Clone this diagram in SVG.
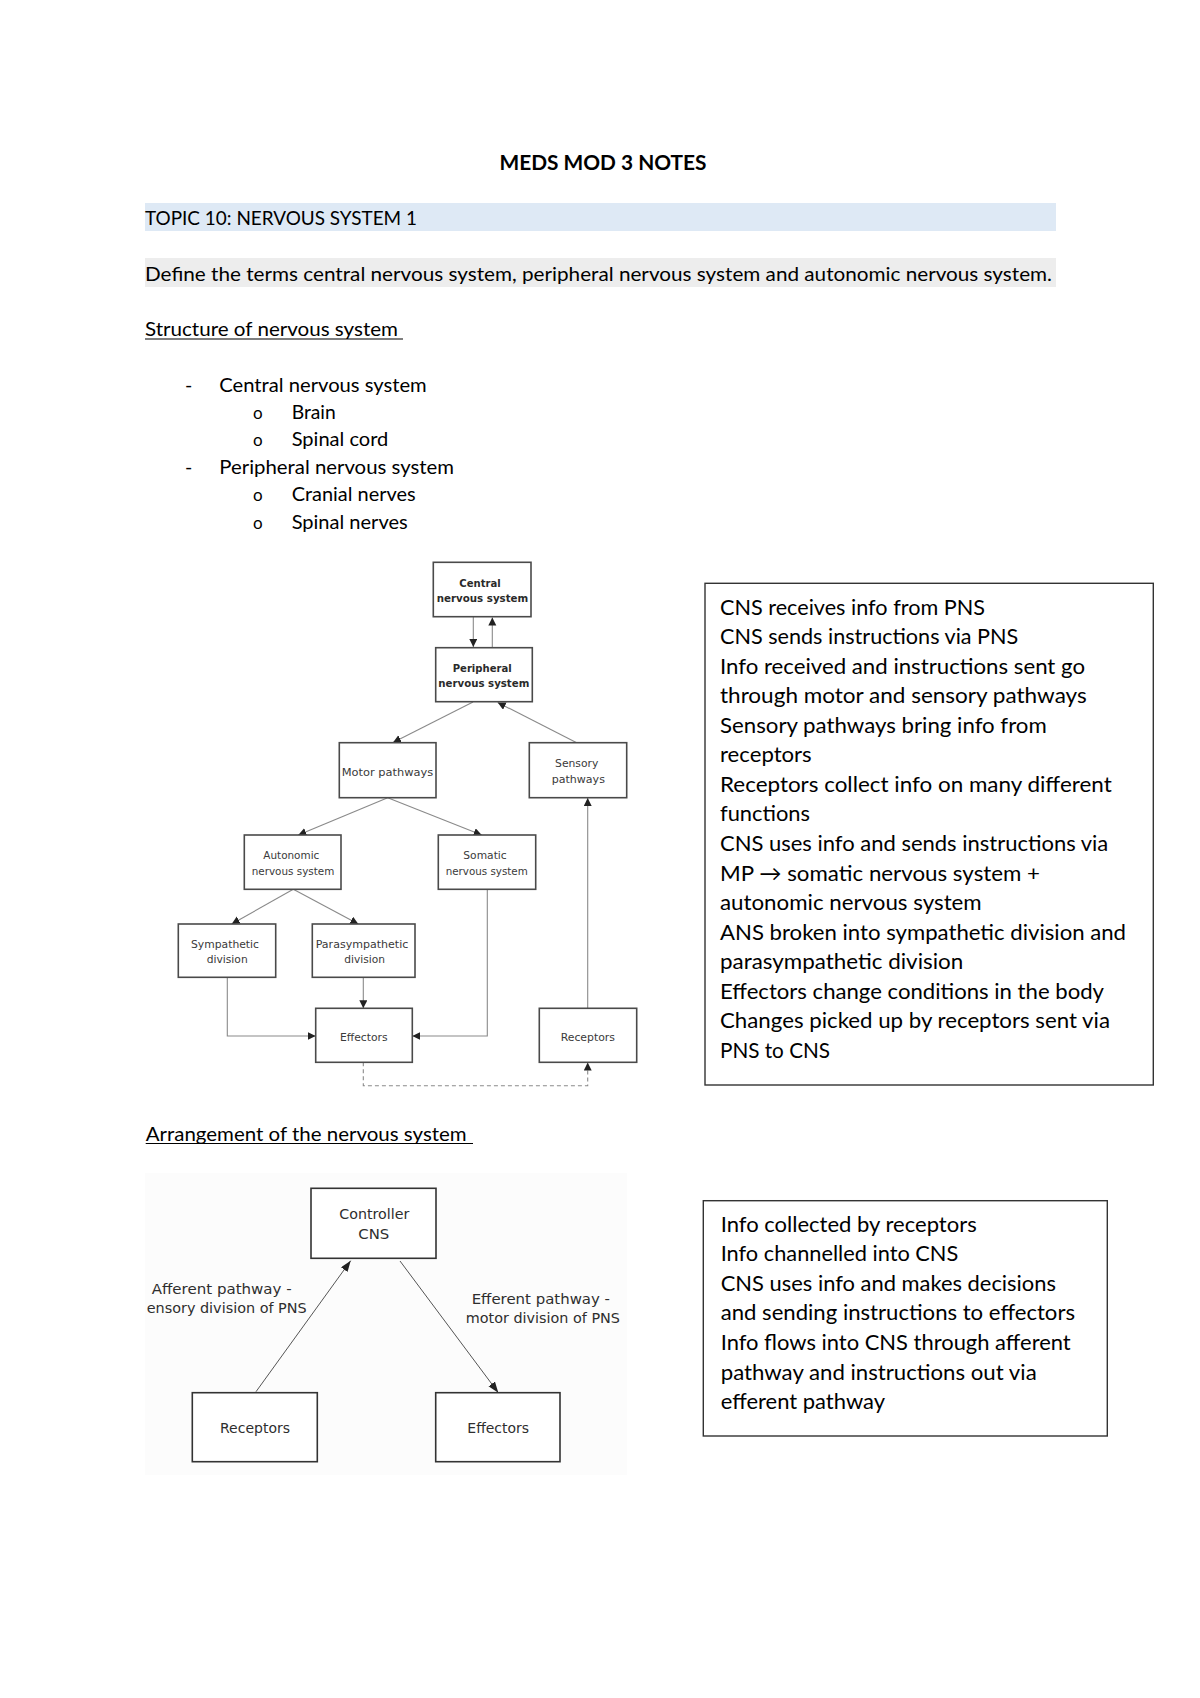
<svg xmlns="http://www.w3.org/2000/svg" width="1200" height="1698" viewBox="0 0 1200 1698">
<style>
.body{font-family:Lato,'Liberation Sans',sans-serif;font-size:19.7px;fill:#000}
.box{font-family:Lato,'Liberation Sans',sans-serif;font-size:21.5px;fill:#000}
.title{font-family:Lato,'Liberation Sans',sans-serif;font-size:21px;font-weight:bold;fill:#000}
.d1{font-family:'DejaVu Sans',sans-serif;font-size:11px;fill:#3a3a3a}
.d1b{font-family:'DejaVu Sans',sans-serif;font-size:11px;font-weight:bold;fill:#2a2a2a}
.d2{font-family:'DejaVu Sans',sans-serif;font-size:14.5px;fill:#2e2e2e}
.n1{fill:#fff;stroke:#4a4a4a;stroke-width:1.6}
.n2{fill:#fff;stroke:#333;stroke-width:1.6}
.c1{fill:none;stroke:#8a8a8a;stroke-width:1.1}
.c2{fill:none;stroke:#555;stroke-width:1}
.dash{stroke-dasharray:4 3}
.frame{fill:none;stroke:#333;stroke-width:1.4}
</style>
<defs>
<marker id="a1" markerUnits="userSpaceOnUse" markerWidth="9" markerHeight="9" refX="8" refY="4" orient="auto">
<path d="M0,0 L8,4 L0,8 z" fill="#222"/>
</marker>
<marker id="a2" markerUnits="userSpaceOnUse" markerWidth="12" markerHeight="10" refX="11" refY="4" orient="auto">
<path d="M0,0 L11,4 L0,8 z" fill="#222"/>
</marker>
</defs>
<rect width="1200" height="1698" fill="#fff"/>

<g id="header">
<text class="title" x="603" y="170" text-anchor="middle" textLength="207" lengthAdjust="spacingAndGlyphs">MEDS MOD 3 NOTES</text>
<rect x="145" y="203" width="911" height="28" fill="#dee9f5"/>
<text class="body" x="145" y="225" textLength="272" lengthAdjust="spacingAndGlyphs">TOPIC 10: NERVOUS SYSTEM 1</text>
<rect x="145" y="258" width="911" height="29" fill="#ededed"/>
<text class="body" x="145" y="281" textLength="907" lengthAdjust="spacingAndGlyphs">Define the terms central nervous system, peripheral nervous system and autonomic nervous system.</text>
<text class="body" x="145" y="336" textLength="253" lengthAdjust="spacingAndGlyphs">Structure of nervous system</text>
<line x1="145" y1="339" x2="403" y2="339" stroke="#000" stroke-width="1.2"/>
<text class="body" x="185" y="391.5">-</text>
<text class="body" x="219.3" y="391.5" textLength="207.4" lengthAdjust="spacingAndGlyphs">Central nervous system</text>
<text class="body" x="253" y="418.9" style="font-size:17px">o</text>
<text class="body" x="291.7" y="418.9" textLength="44" lengthAdjust="spacingAndGlyphs">Brain</text>
<text class="body" x="253" y="446.3" style="font-size:17px">o</text>
<text class="body" x="291.7" y="446.3" textLength="96.6" lengthAdjust="spacingAndGlyphs">Spinal cord</text>
<text class="body" x="185" y="473.7">-</text>
<text class="body" x="219.3" y="473.7" textLength="234.7" lengthAdjust="spacingAndGlyphs">Peripheral nervous system</text>
<text class="body" x="253" y="501.1" style="font-size:17px">o</text>
<text class="body" x="291.7" y="501.1" textLength="124" lengthAdjust="spacingAndGlyphs">Cranial nerves</text>
<text class="body" x="253" y="528.5" style="font-size:17px">o</text>
<text class="body" x="291.7" y="528.5" textLength="116" lengthAdjust="spacingAndGlyphs">Spinal nerves</text>
</g>

<g id="connectors1">
<line class="c1" x1="473.3" y1="617" x2="473.3" y2="647" marker-end="url(#a1)"/>
<line class="c1" x1="492.3" y1="647.7" x2="492.3" y2="617.5" marker-end="url(#a1)"/>
<line class="c1" x1="473" y1="702" x2="393" y2="742.5" marker-end="url(#a1)"/>
<line class="c1" x1="576.7" y1="742.7" x2="497.7" y2="702.5" marker-end="url(#a1)"/>
<line class="c1" x1="387.7" y1="797.7" x2="298.3" y2="835" marker-end="url(#a1)"/>
<line class="c1" x1="387.7" y1="797.7" x2="481.7" y2="835" marker-end="url(#a1)"/>
<line class="c1" x1="293.3" y1="889.3" x2="231.7" y2="924" marker-end="url(#a1)"/>
<line class="c1" x1="293.3" y1="889.3" x2="358.3" y2="924" marker-end="url(#a1)"/>
<line class="c1" x1="363.3" y1="977.3" x2="363.3" y2="1008.3" marker-end="url(#a1)"/>
<polyline class="c1" points="227.3,977.3 227.3,1036 315.7,1036" marker-end="url(#a1)"/>
<polyline class="c1" points="487.3,889.3 487.3,1036 412.3,1036" marker-end="url(#a1)"/>
<line class="c1" x1="587.7" y1="1008.3" x2="587.7" y2="798" marker-end="url(#a1)"/>
<polyline class="c1 dash" points="363.3,1062.3 363.3,1085.7 587.7,1085.7 587.7,1062.5" marker-end="url(#a1)"/>
</g>

<g id="cns">
<rect class="n1" x="433.3" y="562.3" width="97.7" height="54.4"/>
<text class="d1b" x="480" y="586.7" text-anchor="middle" textLength="41.4" lengthAdjust="spacingAndGlyphs">Central</text>
<text class="d1b" x="482.5" y="602.3" text-anchor="middle" textLength="91.6" lengthAdjust="spacingAndGlyphs">nervous system</text>
</g>
<g id="pns">
<rect class="n1" x="435.7" y="647.7" width="96.6" height="54"/>
<text class="d1b" x="482.2" y="671.7" text-anchor="middle" textLength="59" lengthAdjust="spacingAndGlyphs">Peripheral</text>
<text class="d1b" x="483.8" y="687.3" text-anchor="middle" textLength="91" lengthAdjust="spacingAndGlyphs">nervous system</text>
</g>
<g id="motor">
<rect class="n1" x="339.3" y="742.7" width="96.7" height="55"/>
<text class="d1" x="387.5" y="776" text-anchor="middle" textLength="91.6" lengthAdjust="spacingAndGlyphs">Motor pathways</text>
</g>
<g id="sensory">
<rect class="n1" x="529.3" y="742.7" width="97.4" height="55"/>
<text class="d1" x="576.7" y="767.3" text-anchor="middle" textLength="43.3" lengthAdjust="spacingAndGlyphs">Sensory</text>
<text class="d1" x="578.3" y="783.3" text-anchor="middle" textLength="53.3" lengthAdjust="spacingAndGlyphs">pathways</text>
</g>
<g id="autonomic">
<rect class="n1" x="244.3" y="835" width="96.7" height="54.3"/>
<text class="d1" x="291.3" y="859.3" text-anchor="middle" textLength="56" lengthAdjust="spacingAndGlyphs">Autonomic</text>
<text class="d1" x="293" y="875" text-anchor="middle" textLength="82.6" lengthAdjust="spacingAndGlyphs">nervous system</text>
</g>
<g id="somatic">
<rect class="n1" x="438.3" y="835" width="97.4" height="54.3"/>
<text class="d1" x="485" y="859.3" text-anchor="middle" textLength="43.4" lengthAdjust="spacingAndGlyphs">Somatic</text>
<text class="d1" x="486.7" y="875" text-anchor="middle" textLength="82" lengthAdjust="spacingAndGlyphs">nervous system</text>
</g>
<g id="sympathetic">
<rect class="n1" x="178.3" y="924" width="97.4" height="53.3"/>
<text class="d1" x="225" y="948.3" text-anchor="middle" textLength="68" lengthAdjust="spacingAndGlyphs">Sympathetic</text>
<text class="d1" x="227.2" y="963.3" text-anchor="middle" textLength="41" lengthAdjust="spacingAndGlyphs">division</text>
</g>
<g id="parasympathetic">
<rect class="n1" x="312.3" y="924" width="102.7" height="53.3"/>
<text class="d1" x="362" y="948.3" text-anchor="middle" textLength="92.6" lengthAdjust="spacingAndGlyphs">Parasympathetic</text>
<text class="d1" x="364.7" y="963.3" text-anchor="middle" textLength="40.7" lengthAdjust="spacingAndGlyphs">division</text>
</g>
<g id="effectors1">
<rect class="n1" x="315.7" y="1008.3" width="96.6" height="54"/>
<text class="d1" x="363.8" y="1040.7" text-anchor="middle" textLength="47.7" lengthAdjust="spacingAndGlyphs">Effectors</text>
</g>
<g id="receptors1">
<rect class="n1" x="539.3" y="1008.3" width="97.4" height="54"/>
<text class="d1" x="587.8" y="1040.7" text-anchor="middle" textLength="54.3" lengthAdjust="spacingAndGlyphs">Receptors</text>
</g>

<g id="notes1">
<rect class="frame" x="705" y="583.3" width="448.3" height="501.7"/>
<text class="box" x="720" y="614.5" textLength="265" lengthAdjust="spacingAndGlyphs">CNS receives info from PNS</text>
<text class="box" x="720" y="644.1" textLength="298.3" lengthAdjust="spacingAndGlyphs">CNS sends instructions via PNS</text>
<text class="box" x="720" y="673.6" textLength="365" lengthAdjust="spacingAndGlyphs">Info received and instructions sent go</text>
<text class="box" x="720" y="703.2" textLength="366.7" lengthAdjust="spacingAndGlyphs">through motor and sensory pathways</text>
<text class="box" x="720" y="732.7" textLength="326.7" lengthAdjust="spacingAndGlyphs">Sensory pathways bring info from</text>
<text class="box" x="720" y="762.3" textLength="91.7" lengthAdjust="spacingAndGlyphs">receptors</text>
<text class="box" x="720" y="791.9" textLength="391.7" lengthAdjust="spacingAndGlyphs">Receptors collect info on many different</text>
<text class="box" x="720" y="821.4" textLength="90" lengthAdjust="spacingAndGlyphs">functions</text>
<text class="box" x="720" y="851" textLength="388.3" lengthAdjust="spacingAndGlyphs">CNS uses info and sends instructions via</text>
<text class="box" x="720" y="880.5" textLength="320" lengthAdjust="spacingAndGlyphs">MP → somatic nervous system +</text>
<text class="box" x="720" y="910.1" textLength="261.7" lengthAdjust="spacingAndGlyphs">autonomic nervous system</text>
<text class="box" x="720" y="939.7" textLength="406" lengthAdjust="spacingAndGlyphs">ANS broken into sympathetic division and</text>
<text class="box" x="720" y="969.2" textLength="243.3" lengthAdjust="spacingAndGlyphs">parasympathetic division</text>
<text class="box" x="720" y="998.8" textLength="384" lengthAdjust="spacingAndGlyphs">Effectors change conditions in the body</text>
<text class="box" x="720" y="1028.3" textLength="390" lengthAdjust="spacingAndGlyphs">Changes picked up by receptors sent via</text>
<text class="box" x="720" y="1057.9" textLength="110" lengthAdjust="spacingAndGlyphs">PNS to CNS</text>
</g>

<g id="arrangement-heading">
<text class="body" x="145.7" y="1140.7" textLength="321" lengthAdjust="spacingAndGlyphs">Arrangement of the nervous system</text>
<line x1="145.7" y1="1143.5" x2="473" y2="1143.5" stroke="#000" stroke-width="1.2"/>
</g>

<rect x="145" y="1173" width="482" height="302" fill="#fcfcfc"/>

<g id="connectors2">
<line class="c2" x1="256" y1="1391.7" x2="350.7" y2="1260.7" marker-end="url(#a2)"/>
<line class="c2" x1="400" y1="1261" x2="498.3" y2="1392.7" marker-end="url(#a2)"/>
<text class="d2" x="151.7" y="1294" textLength="140" lengthAdjust="spacingAndGlyphs">Afferent pathway -</text>
<text class="d2" x="146.7" y="1313.3" textLength="160" lengthAdjust="spacingAndGlyphs">ensory division of PNS</text>
<text class="d2" x="471.7" y="1304" textLength="138.3" lengthAdjust="spacingAndGlyphs">Efferent pathway -</text>
<text class="d2" x="465.7" y="1323.3" textLength="154.3" lengthAdjust="spacingAndGlyphs">motor division of PNS</text>
</g>
<g id="controller">
<rect class="n2" x="311" y="1188.3" width="125" height="70"/>
<text class="d2" x="374.3" y="1219" text-anchor="middle" textLength="70" lengthAdjust="spacingAndGlyphs">Controller</text>
<text class="d2" x="373.8" y="1239" text-anchor="middle" textLength="31" lengthAdjust="spacingAndGlyphs">CNS</text>
</g>
<g id="receptors2">
<rect class="n2" x="192.3" y="1392.7" width="125" height="69"/>
<text class="d2" x="255" y="1433.3" text-anchor="middle" textLength="70" lengthAdjust="spacingAndGlyphs">Receptors</text>
</g>
<g id="effectors2">
<rect class="n2" x="435.7" y="1392.7" width="124.3" height="69"/>
<text class="d2" x="498.2" y="1433.3" text-anchor="middle" textLength="61.7" lengthAdjust="spacingAndGlyphs">Effectors</text>
</g>

<g id="notes2">
<rect class="frame" x="703.3" y="1200.7" width="404" height="235.3"/>
<text class="box" x="720.7" y="1231.7" textLength="256" lengthAdjust="spacingAndGlyphs">Info collected by receptors</text>
<text class="box" x="720.7" y="1261.3" textLength="237.6" lengthAdjust="spacingAndGlyphs">Info channelled into CNS</text>
<text class="box" x="720.7" y="1290.8" textLength="335.3" lengthAdjust="spacingAndGlyphs">CNS uses info and makes decisions</text>
<text class="box" x="720.7" y="1320.4" textLength="354.3" lengthAdjust="spacingAndGlyphs">and sending instructions to effectors</text>
<text class="box" x="720.7" y="1349.9" textLength="350" lengthAdjust="spacingAndGlyphs">Info flows into CNS through afferent</text>
<text class="box" x="720.7" y="1379.5" textLength="316" lengthAdjust="spacingAndGlyphs">pathway and instructions out via</text>
<text class="box" x="720.7" y="1409.1" textLength="164.3" lengthAdjust="spacingAndGlyphs">efferent pathway</text>
</g>
</svg>
